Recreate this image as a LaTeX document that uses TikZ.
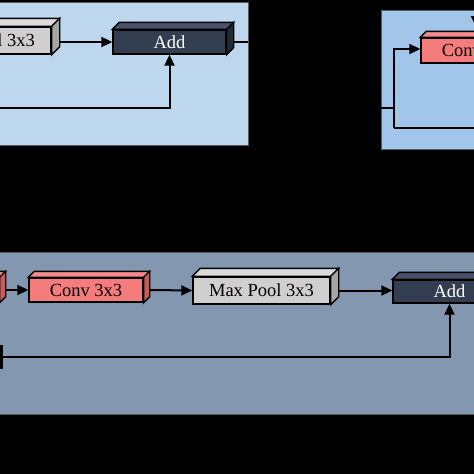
\documentclass[tikz,border=0pt]{standalone}
\usepackage{fontspec}
\setmainfont{Liberation Serif}
\usetikzlibrary{arrows.meta,positioning}

% colours of the panels and blocks
\definecolor{panelA}{HTML}{BDD7EE}
\definecolor{panelB}{HTML}{A2C6EA}
\definecolor{panelC}{HTML}{8497B0}
\definecolor{convfront}{HTML}{F47C7C}
\definecolor{convtop}{HTML}{F48A8A}
\definecolor{convside}{HTML}{C95B5B}
\definecolor{poolfront}{HTML}{D0CECE}
\definecolor{pooltop}{HTML}{DCDADA}
\definecolor{poolside}{HTML}{A6A6A6}
\definecolor{addfront}{HTML}{333F50}
\definecolor{addtop}{HTML}{46536A}
\definecolor{addside}{HTML}{222A35}

\tikzset{
  blk/.style={draw=black, line width=1.4pt, inner sep=0pt,
    font=\fontsize{18.5}{20}\selectfont},
  convblk/.style={blk, fill=convfront, minimum width=114pt, minimum height=24pt},
  poolblk/.style={blk, fill=poolfront, minimum width=137pt, minimum height=27pt},
  addblk/.style={blk, fill=addfront, text=white, minimum width=113pt, minimum height=24pt},
  wire/.style={line width=2pt},
  flow/.style={wire, -{Triangle[length=11pt,width=10pt]}},
  panel/.style={draw=black!65, line width=0.8pt},
}

% top and side faces of a block: name, depth, top colour, side colour
\newcommand{\boxfaces}[4]{%
  \filldraw[line width=1.4pt, fill=#3] (#1.north west) -- ++(#2,-#2)
    -- ([shift={(#2,-#2)}]#1.north east) -- (#1.north east) -- cycle;
  \filldraw[line width=1.4pt, fill=#4] (#1.north east) -- ++(#2,-#2)
    -- ([shift={(#2,-#2)}]#1.south east) -- (#1.south east) -- cycle;
}

\begin{document}
\begin{tikzpicture}[x=1pt, y=-1pt]
  % black page, everything clipped to it
  \fill[black] (0,0) rectangle (474,474);
  \useasboundingbox (0,0) rectangle (474,474);
  \clip (0,0) rectangle (474,474);

  % Panels
  \filldraw[panel, fill=panelA] (-5,2) rectangle (248,145);
  \filldraw[panel, fill=panelB] (381,10) rectangle (480,149);
  \filldraw[panel, fill=panelC] (-5,252) rectangle (480,414);

  % Top left panel
  \node[poolblk] (pool1) at (-17.5,40.5) {Max Pool 3x3};
  \node[addblk] (add1) at (169.5,42) {Add};
  \coordinate (skip1) at (-5,108);
  \coordinate (out1) at (248,42);
  \draw[flow] ([xshift=8pt]pool1.east |- add1.west) -- (add1.west);
  \draw[wire] ([xshift=7pt]add1.east) -- (out1);
  \draw[flow] (skip1) -| (add1.south);

  % Top right panel
  \node[convblk, minimum height=25pt] (conv2) at (478,50.5) {Conv 3x3};
  \coordinate (in2) at (381,108);
  \coordinate (split2) at (394,128);
  \coordinate (out2) at (480,128);
  \coordinate (down2) at (476,8);
  \coordinate (tip2) at (476,27);
  \draw[wire] (in2) -- (in2 -| split2);
  \draw[flow] (split2) |- ([yshift=1.5pt]conv2.west);
  \draw[wire] (split2) -- (out2);
  \draw[flow] (down2) -- (tip2);

  % Bottom panel
  \node[convblk] (conv0) at (-58,290) {Conv 3x3};
  \node[convblk] (conv3) at (86,290) {Conv 3x3};
  \node[poolblk] (pool3) at (261.5,290.5) {Max Pool 3x3};
  \node[addblk, minimum height=23pt] (add3) at (449.5,291.5) {Add};
  \coordinate (skip3) at (1.5,357);
  \draw[flow] ([xshift=6pt]conv0.east) -- (conv3.west);
  \draw[flow] ([xshift=6pt]conv3.east) -- (pool3.west);
  \draw[flow] ([xshift=8pt]pool3.east) -- (pool3.east -| add3.west);
  \draw[flow] (skip3) -| (add3.south);
  \draw[line width=3.5pt] ([yshift=-12pt]skip3) -- ([yshift=12pt]skip3);

  % 3D faces of the blocks
  \boxfaces{pool1}{8}{pooltop}{poolside}
  \boxfaces{add1}{7}{addtop}{addside}
  \boxfaces{conv2}{6}{convtop}{convside}
  \boxfaces{conv0}{6}{convtop}{convside}
  \boxfaces{conv3}{6}{convtop}{convside}
  \boxfaces{pool3}{8}{pooltop}{poolside}
  \boxfaces{add3}{7}{addtop}{addside}
\end{tikzpicture}
\end{document}
